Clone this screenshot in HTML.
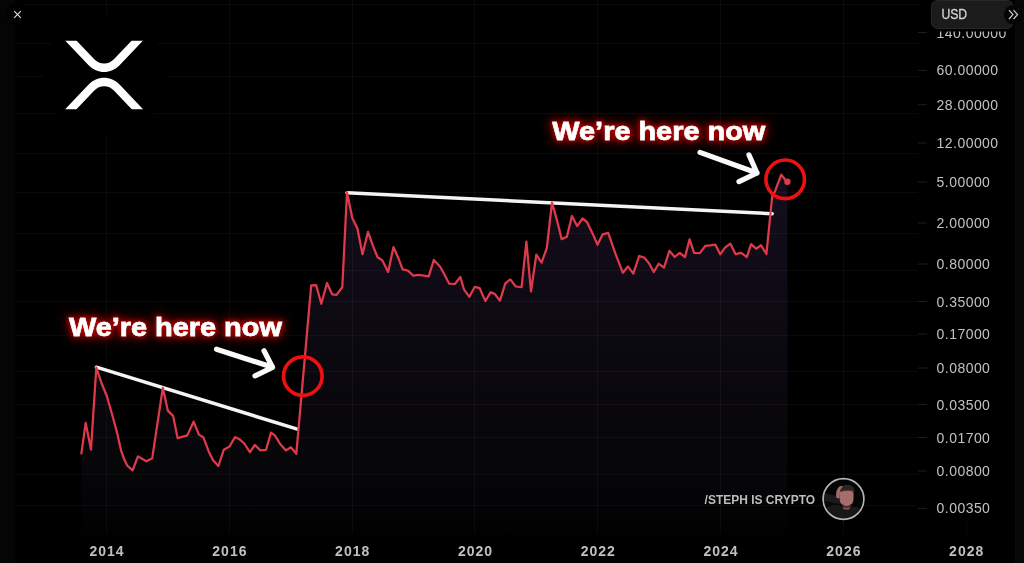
<!DOCTYPE html>
<html><head><meta charset="utf-8"><style>
html,body{margin:0;padding:0;background:#000;}
body{width:1024px;height:563px;overflow:hidden;position:relative;font-family:"Liberation Sans",sans-serif;}
svg{position:absolute;left:0;top:0;}
</style></head><body>
<svg width="1024" height="563" viewBox="0 0 1024 563">
<defs>
<linearGradient id="af" gradientUnits="userSpaceOnUse" x1="0" y1="175" x2="0" y2="534">
<stop offset="0" stop-color="#150d1c"/>
<stop offset="0.5" stop-color="#0b0910"/>
<stop offset="0.8" stop-color="#070609"/>
<stop offset="1" stop-color="#010102"/>
</linearGradient>
<filter id="nop" x="-5%" y="-20%" width="110%" height="140%"><feOffset dx="0" dy="0"/></filter>
<filter id="blur1" x="-10%" y="-10%" width="120%" height="120%"><feGaussianBlur stdDeviation="1.2"/></filter>
<filter id="glow" x="-20%" y="-80%" width="140%" height="260%">
<feMorphology in="SourceAlpha" operator="dilate" radius="1" result="d1"/>
<feGaussianBlur in="d1" stdDeviation="2.2" result="b1"/>
<feFlood flood-color="#c00000" flood-opacity="0.85"/>
<feComposite in2="b1" operator="in" result="g1"/>
<feMorphology in="SourceAlpha" operator="dilate" radius="2" result="d2"/>
<feGaussianBlur in="d2" stdDeviation="6" result="b2"/>
<feFlood flood-color="#800000" flood-opacity="0.9"/>
<feComposite in2="b2" operator="in" result="g2"/>
<feMerge><feMergeNode in="g2"/><feMergeNode in="g1"/><feMergeNode in="SourceGraphic"/></feMerge>
</filter>
</defs>
<rect x="0" y="0" width="1024" height="563" fill="#000"/>
<rect x="0" y="0" width="15.3" height="563" fill="#050505"/>
<rect x="1015" y="0" width="9" height="563" fill="#080808"/>
<path d="M81.4,534 L81.4,453.4 L85.7,422.9 L91,449.6 L96.3,367.5 L101.7,383.5 L106.8,396 L112,414 L117,432.5 L121.2,451 L124.5,460 L127.2,465.5 L132.6,470.4 L137.9,456.4 L146.4,461.3 L152.2,458.3 L162.8,387.8 L167.8,410.6 L173.1,415.9 L177.6,438.1 L187.3,435.4 L193.6,421.6 L198.9,434.6 L203.3,437.2 L208.7,451.4 L213.1,460.3 L218.4,466 L223.8,449.7 L229.5,446.5 L235,437.1 L239.9,439.6 L244.3,443.5 L249.9,452.2 L254.9,445 L260.4,450.4 L266,449.8 L271,432.6 L274.8,435.4 L280.3,444.2 L286,450.4 L290.9,447.3 L296.3,453.8 L311.2,285.3 L316.2,285.2 L321.3,303.8 L327,283 L332.1,294.3 L336.6,294.8 L342.3,287 L347,192.2 L352.3,218.1 L357.4,228.5 L362.5,254.2 L368,231.8 L372.8,245.4 L377.5,257.2 L382.4,260.4 L388.1,272.1 L393.5,247.1 L398.4,258.2 L402.6,269.3 L408,270.6 L413.3,275.7 L418.6,274.9 L424,275.7 L428.7,276.4 L433.8,260 L440,266.5 L444.2,274 L449.2,283.7 L454.9,284 L460.3,276.9 L464.1,289.7 L469.4,296.8 L474.8,286.8 L479.7,288.2 L485.4,301 L490.7,292.2 L494.7,293.9 L500,300.7 L505.3,283.3 L510.3,279.4 L515.8,286.5 L521.6,287.1 L526.4,241.6 L531,291.5 L536.3,254.6 L541.6,262.6 L546.8,248 L552,202.5 L557.1,220.8 L561.6,239.1 L566.9,236.8 L571.9,216 L577.2,226.1 L582.5,218.5 L587,222 L593,234.4 L597.5,244.8 L602.6,234.4 L608.2,232.8 L615.4,253.6 L622.9,272.8 L627.9,266.4 L633.3,273.6 L639.1,256 L644.2,257.6 L649,263.2 L653.8,272 L658.6,263.7 L664,267.6 L669.4,250.8 L674.7,257 L679.7,252.9 L685,257 L689.6,239.4 L694.1,252.9 L699.9,253.2 L705.3,245.8 L710,245.4 L715.4,244.7 L720.2,254.3 L725,247.6 L730.3,243.6 L735.6,254.2 L741.2,252.8 L746.8,257.1 L751.1,244.1 L756.1,248.7 L761.1,245.3 L766.4,254 L772.5,193.5 L774.6,192.4 L781.3,174.6 L784.9,179.2 L787.4,181.8 L787.4,534 Z" fill="url(#af)"/>
<g stroke="#ffffff" stroke-opacity="0.04" stroke-width="1" shape-rendering="crispEdges">
<line x1="15" y1="4.5" x2="918" y2="4.5"/>
<line x1="15" y1="43" x2="918" y2="43"/>
<line x1="15" y1="76" x2="918" y2="76"/>
<line x1="15" y1="113" x2="918" y2="113"/>
<line x1="15" y1="153" x2="918" y2="153"/>
<line x1="15" y1="192.5" x2="918" y2="192.5"/>
<line x1="15" y1="233" x2="918" y2="233"/>
<line x1="15" y1="270" x2="918" y2="270"/>
<line x1="15" y1="301" x2="918" y2="301"/>
<line x1="15" y1="335" x2="918" y2="335"/>
<line x1="15" y1="371" x2="918" y2="371"/>
<line x1="15" y1="404" x2="918" y2="404"/>
<line x1="15" y1="437" x2="918" y2="437"/>
<line x1="15" y1="474" x2="918" y2="474"/>
<line x1="15" y1="505" x2="918" y2="505"/>
<line x1="106.5" y1="0" x2="106.5" y2="534"/>
<line x1="229.3" y1="0" x2="229.3" y2="534"/>
<line x1="352.1" y1="0" x2="352.1" y2="534"/>
<line x1="474.9" y1="0" x2="474.9" y2="534"/>
<line x1="597.7" y1="0" x2="597.7" y2="534"/>
<line x1="720.5" y1="0" x2="720.5" y2="534"/>
<line x1="843.3" y1="0" x2="843.3" y2="534"/>
<line x1="966.1" y1="522" x2="966.1" y2="534"/>
</g>
<g stroke="#1e1e1e" stroke-width="1">
<line x1="918" y1="32.5" x2="927" y2="32.5"/>
<line x1="918" y1="70.4" x2="927" y2="70.4"/>
<line x1="918" y1="104.7" x2="927" y2="104.7"/>
<line x1="918" y1="143" x2="927" y2="143"/>
<line x1="918" y1="182" x2="927" y2="182"/>
<line x1="918" y1="223" x2="927" y2="223"/>
<line x1="918" y1="264" x2="927" y2="264"/>
<line x1="918" y1="301.5" x2="927" y2="301.5"/>
<line x1="918" y1="334" x2="927" y2="334"/>
<line x1="918" y1="368" x2="927" y2="368"/>
<line x1="918" y1="404.6" x2="927" y2="404.6"/>
<line x1="918" y1="437.5" x2="927" y2="437.5"/>
<line x1="918" y1="471" x2="927" y2="471"/>
<line x1="918" y1="508.4" x2="927" y2="508.4"/>
</g>
<!-- logo backdrop -->
<circle cx="104.5" cy="75" r="61.5" fill="#000" filter="url(#blur1)"/>
<!-- XRP logo -->
<svg x="64.9" y="40.4" width="78.4" height="69" viewBox="0 0 512 424" preserveAspectRatio="none">
<path fill="#fff" d="M437,0h74L357,152.48c-55.77,55.19-146.19,55.19-202,0L.94,0H75L192,115.83a91.11,91.11,0,0,0,127.91,0Z"/>
<path fill="#fff" d="M74.05,424H0L155,270.58c55.77-55.19,146.19-55.19,202,0L512,424H438L320,307.23a91.11,91.11,0,0,0-127.91,0Z"/>
</svg>
<!-- close x -->
<circle cx="17.5" cy="14.6" r="11" fill="#000"/>
<path d="M14.2,11.2 L20.8,17.8 M20.8,11.2 L14.2,17.8" stroke="#d8d8d8" stroke-width="1.2" fill="none"/>
<!-- trend lines -->
<g stroke="#f4f4f4" stroke-width="3.5" stroke-linecap="round">
<line x1="96.4" y1="367.2" x2="296.5" y2="428.9"/>
<line x1="347" y1="192.7" x2="772.2" y2="213.7"/>
</g>
<!-- price line -->
<polyline points="81.4,453.4 85.7,422.9 91,449.6 96.3,367.5 101.7,383.5 106.8,396 112,414 117,432.5 121.2,451 124.5,460 127.2,465.5 132.6,470.4 137.9,456.4 146.4,461.3 152.2,458.3 162.8,387.8 167.8,410.6 173.1,415.9 177.6,438.1 187.3,435.4 193.6,421.6 198.9,434.6 203.3,437.2 208.7,451.4 213.1,460.3 218.4,466 223.8,449.7 229.5,446.5 235,437.1 239.9,439.6 244.3,443.5 249.9,452.2 254.9,445 260.4,450.4 266,449.8 271,432.6 274.8,435.4 280.3,444.2 286,450.4 290.9,447.3 296.3,453.8 311.2,285.3 316.2,285.2 321.3,303.8 327,283 332.1,294.3 336.6,294.8 342.3,287 347,192.2 352.3,218.1 357.4,228.5 362.5,254.2 368,231.8 372.8,245.4 377.5,257.2 382.4,260.4 388.1,272.1 393.5,247.1 398.4,258.2 402.6,269.3 408,270.6 413.3,275.7 418.6,274.9 424,275.7 428.7,276.4 433.8,260 440,266.5 444.2,274 449.2,283.7 454.9,284 460.3,276.9 464.1,289.7 469.4,296.8 474.8,286.8 479.7,288.2 485.4,301 490.7,292.2 494.7,293.9 500,300.7 505.3,283.3 510.3,279.4 515.8,286.5 521.6,287.1 526.4,241.6 531,291.5 536.3,254.6 541.6,262.6 546.8,248 552,202.5 557.1,220.8 561.6,239.1 566.9,236.8 571.9,216 577.2,226.1 582.5,218.5 587,222 593,234.4 597.5,244.8 602.6,234.4 608.2,232.8 615.4,253.6 622.9,272.8 627.9,266.4 633.3,273.6 639.1,256 644.2,257.6 649,263.2 653.8,272 658.6,263.7 664,267.6 669.4,250.8 674.7,257 679.7,252.9 685,257 689.6,239.4 694.1,252.9 699.9,253.2 705.3,245.8 710,245.4 715.4,244.7 720.2,254.3 725,247.6 730.3,243.6 735.6,254.2 741.2,252.8 746.8,257.1 751.1,244.1 756.1,248.7 761.1,245.3 766.4,254 772.5,193.5 774.6,192.4 781.3,174.6 784.9,179.2 787.4,181.8" fill="none" stroke="#de3a4c" stroke-width="2.25" stroke-linejoin="round" stroke-linecap="round"/>
<circle cx="787.4" cy="181.8" r="3.2" fill="#de3a4c"/>
<!-- red circles -->
<g fill="none" stroke="#f01010" stroke-width="3.6">
<circle cx="302.8" cy="376.2" r="19.3"/>
<circle cx="785.2" cy="179.3" r="19.3"/>
</g>
<!-- arrows -->
<g fill="none" stroke="#fafafa" stroke-width="5.2" stroke-linecap="round" stroke-linejoin="round">
<path d="M216.5,349.2 L272.5,367.3 M264,350.8 L272.5,367.3 L255,375.8"/>
<path d="M700,152.4 L757,173 M749,155 L757,173 L739,181.6"/>
</g>
<!-- labels -->
<g font-family="Liberation Sans" font-weight="bold" font-size="26" fill="#fff" stroke="#fff" stroke-width="0.5" filter="url(#glow)">
<text x="68.9" y="335.5" textLength="213" lengthAdjust="spacingAndGlyphs">We’re here now</text>
<text x="552.3" y="140" textLength="213" lengthAdjust="spacingAndGlyphs">We’re here now</text>
</g>
<!-- y axis -->
<g font-family="Liberation Sans" font-size="14" fill="#c2c2c2" letter-spacing="0.45" filter="url(#nop)">
<text x="936.6" y="37.5">140.00000</text>
<text x="936.6" y="75.4">60.00000</text>
<text x="936.6" y="109.7">28.00000</text>
<text x="936.6" y="148.0">12.00000</text>
<text x="936.6" y="187.0">5.00000</text>
<text x="936.6" y="228.0">2.00000</text>
<text x="936.6" y="269.0">0.80000</text>
<text x="936.6" y="306.5">0.35000</text>
<text x="936.6" y="339.0">0.17000</text>
<text x="936.6" y="373.0">0.08000</text>
<text x="936.6" y="409.6">0.03500</text>
<text x="936.6" y="442.5">0.01700</text>
<text x="936.6" y="476.0">0.00800</text>
<text x="936.6" y="513.4">0.00350</text>
</g>
<g font-family="Liberation Sans" font-size="14" font-weight="bold" fill="#c0c0c0" text-anchor="middle" letter-spacing="1" filter="url(#nop)">
<text x="107.1" y="555.5">2014</text>
<text x="229.9" y="555.5">2016</text>
<text x="352.7" y="555.5">2018</text>
<text x="475.5" y="555.5">2020</text>
<text x="598.3" y="555.5">2022</text>
<text x="721.1" y="555.5">2024</text>
<text x="843.9" y="555.5">2026</text>
<text x="966.7" y="555.5">2028</text>
</g>
<!-- USD box -->
<rect x="925" y="0" width="89" height="31.5" fill="#000"/>
<rect x="931.5" y="0.5" width="81.5" height="28" rx="6" fill="#1b1b1b" stroke="#272727" stroke-width="1"/>
<text filter="url(#nop)" x="941.4" y="19.2" font-family="Liberation Sans" font-size="14" fill="#d2d2d2" stroke="#d2d2d2" stroke-width="0.3" textLength="25.8" lengthAdjust="spacingAndGlyphs">USD</text>
<circle cx="1013.4" cy="14.6" r="9.6" fill="#050505"/>
<path d="M1009,10.2 L1013,14.6 L1009,19 M1013.5,10.2 L1017.5,14.6 L1013.5,19" stroke="#cfcfcf" stroke-width="1.2" fill="none"/>
<!-- watermark -->
<text filter="url(#nop)" x="704.6" y="503.6" font-family="Liberation Sans" font-weight="bold" font-size="12" fill="#bcbcbc" textLength="110.5" lengthAdjust="spacingAndGlyphs">/STEPH IS CRYPTO</text>
<circle cx="843.5" cy="499" r="20.4" fill="#050505"/>
<!-- avatar person -->
<clipPath id="av"><circle cx="843.5" cy="499" r="19.6"/></clipPath>
<g clip-path="url(#av)">
<path d="M822,512 C826,506 832,505 838,504.5 L845,508 L852,506.5 C857,506.5 861,508 866,513 L866,522 L822,522 Z" fill="#181818"/>
<path d="M824,497 L838.5,500" stroke="#1a1a1a" stroke-width="7.5" stroke-linecap="round"/>
<rect x="843" y="504" width="7" height="5.5" rx="2" fill="#8a5a58"/>
<path d="M839.6,494 C839.6,490 842,489.8 846.5,489.8 C851,489.8 853.6,490.5 853.6,494.5 L853.4,500 C853,504 850,506 846.5,506 C843,506 840.2,504 839.8,500 Z" fill="#a46e6c"/>
<path d="M842,503.5 C844,506.8 849,506.8 851.5,503.5 L851,506.5 C849,508.5 844.5,508.5 842.5,506.5 Z" fill="#4a2c2c"/>
<path d="M840.2,491.5 C840.2,486.8 843.2,485 847.2,485 C851.2,485 854.6,486.8 854.6,491.3 C850.5,489.8 844.5,489.8 840.2,491.5 Z" fill="#262626"/>
<path d="M840.4,491.4 C844.5,489.9 850.5,489.9 854.4,491.2" stroke="#5a2828" stroke-width="1.2" fill="none"/>
<path d="M836.4,498 C835.6,493.5 836.2,489.5 838.8,487 C840.2,485.8 842.2,485.8 843.4,486.6 C841.3,487.8 840,489.8 839.9,492.5 C839.8,494.8 840,496.5 839.6,498.5 Z" fill="#a06a6a"/>
</g>
<circle cx="843.5" cy="499" r="20.4" fill="none" stroke="#b4b4b4" stroke-width="1.7"/>
</svg>
</body></html>
